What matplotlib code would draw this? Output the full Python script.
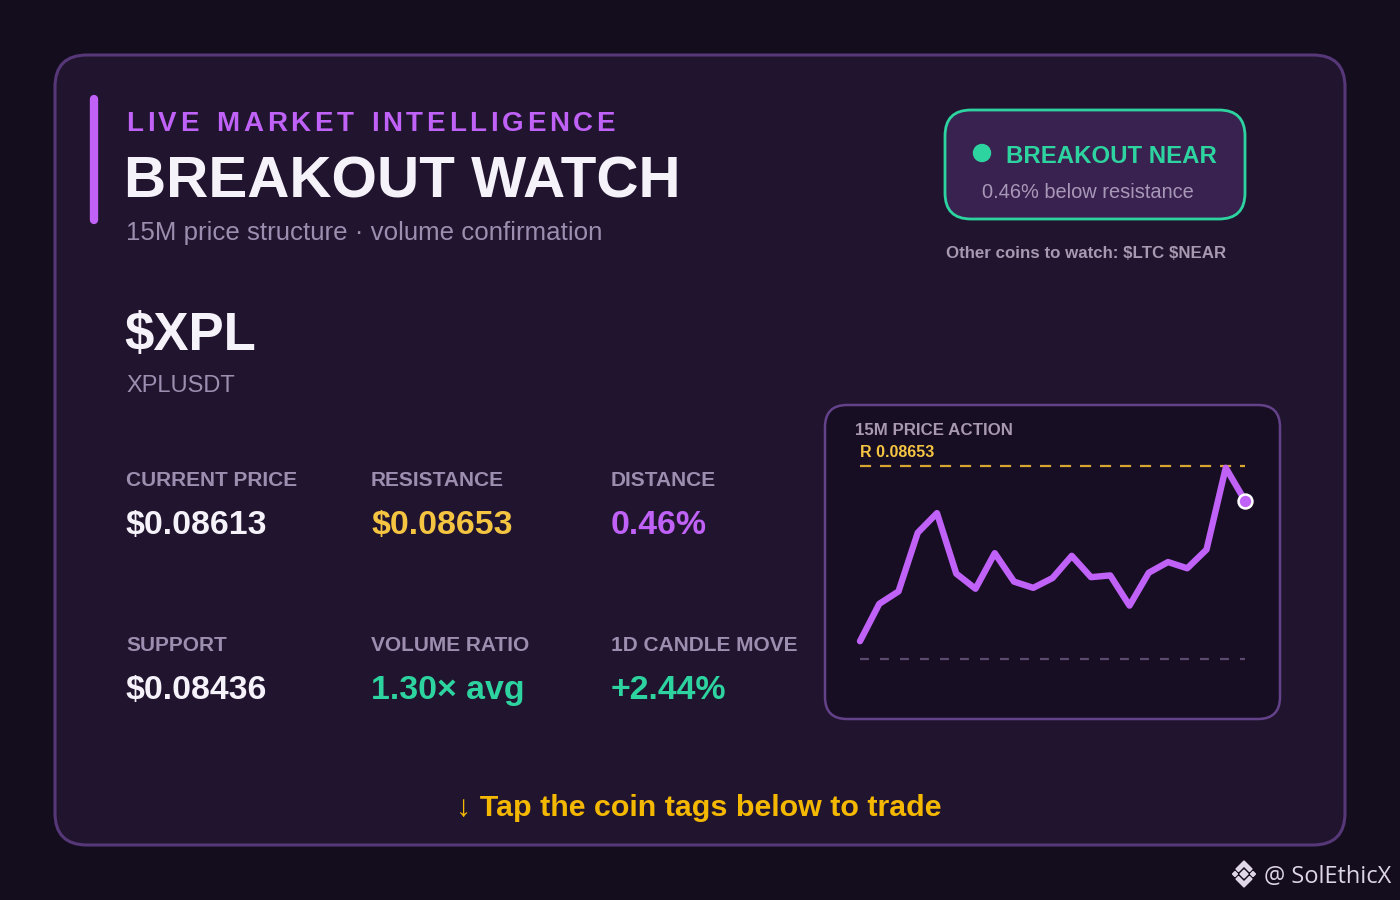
import numpy as np
import matplotlib
matplotlib.use("Agg")
import matplotlib.pyplot as plt
from matplotlib.patches import FancyBboxPatch, Circle, Polygon

plt.rcParams['font.family'] = ['Liberation Sans', 'DejaVu Sans']
plt.rcParams['text.parse_math'] = False

# data
prices = [0.08456, 0.08498, 0.08512, 0.08578, 0.08600, 0.08532, 0.08515,
          0.08555, 0.08523, 0.08516, 0.08527, 0.08552, 0.08528, 0.08530,
          0.08496, 0.08533, 0.08545, 0.08538, 0.08559, 0.08651, 0.08614]
resistance = 0.08653
support = 0.08436
stat_labels = ["CURRENT PRICE", "RESISTANCE", "DISTANCE",
               "SUPPORT", "VOLUME RATIO", "1D CANDLE MOVE"]
stat_values = ["$0.08613", "$0.08653", "0.46%",
               "$0.08436", "1.30\u00d7 avg", "+2.44%"]

BG = "#130d1e"
CARD = "#21142f"
CARD_EDGE = "#563878"
PURPLE = "#c062f7"
TEAL = "#2dd4a0"
YELLOW = "#f5c542"
GOLD = "#f5b800"
GREY = "#9d8daf"
WHITE = "#f6f2fa"
stat_colors = [WHITE, YELLOW, PURPLE, WHITE, TEAL, TEAL]

fig = plt.figure(figsize=(14, 9), dpi=100)
fig.patch.set_facecolor(BG)
ax = fig.add_axes([0, 0, 1, 1])
ax.set_xlim(0, 1400)
ax.set_ylim(900, 0)
ax.axis("off")

def rbox(x0, y0, x1, y1, r, fc, ec, lw):
    ax.add_patch(FancyBboxPatch((x0, y0), x1 - x0, y1 - y0,
                                boxstyle="round,pad=0,rounding_size=%d" % r,
                                fc=fc, ec=ec, lw=lw))

# main card
rbox(55, 55, 1345, 845, 32, CARD, CARD_EDGE, 2.2)

# accent bar
ax.plot([94, 94], [99, 220], color=PURPLE, lw=6, solid_capstyle="round")

# letter spaced kicker
renderer = fig.canvas.get_renderer()
kicker = "LIVE MARKET INTELLIGENCE"
widths = []
for ch in kicker:
    t = ax.text(0, 0, ch, fontsize=20, fontweight="bold")
    widths.append(t.get_window_extent(renderer).width if ch != " " else 0)
    t.remove()
space_w = 10
natural = sum(widths) + space_w * kicker.count(" ")
track = (489 - natural) / (len(kicker) - 1)
xx = 126
for ch, w in zip(kicker, widths):
    if ch == " ":
        xx += space_w + track
        continue
    ax.text(xx, 131, ch, fontsize=20, fontweight="bold", color=PURPLE, va="baseline")
    xx += w + track

ax.text(124, 197, "BREAKOUT WATCH", fontsize=42, fontweight="bold", color=WHITE, va="baseline")
ax.text(126, 240, "15M price structure \u00b7 volume confirmation", fontsize=18.6, color=GREY, va="baseline")

ax.text(124, 350, "$XPL", fontsize=38, fontweight="bold", color=WHITE, va="baseline")
ax.text(126, 392, "XPLUSDT", fontsize=17, color=GREY, va="baseline")

# stats grid
cols = [126, 371, 611]
rows = [486, 651]
for i, (lab, val) in enumerate(zip(stat_labels, stat_values)):
    cx = cols[i % 3]
    ry = rows[i // 3]
    ax.text(cx, ry, lab, fontsize=15, fontweight="bold", color=GREY, va="baseline")
    ax.text(cx, ry + 48, val, fontsize=24.4, fontweight="bold", color=stat_colors[i], va="baseline")

# badge
rbox(945, 110, 1245, 219, 26, "#3a2250", TEAL, 2)
ax.add_patch(Circle((982, 153), 8.5, color=TEAL))
ax.text(1006, 163, "BREAKOUT NEAR", fontsize=17.3, fontweight="bold", color=TEAL, va="baseline")
ax.text(982, 198, "0.46% below resistance", fontsize=14.4, color="#a898b8", va="baseline")
ax.text(946, 258, "Other coins to watch: $LTC $NEAR", fontsize=12.2, fontweight="bold",
        color="#a898b0", va="baseline")

# chart panel
rbox(825, 405, 1280, 719, 22, "#170e24", "#64428a", 1.8)
ax.text(855, 435, "15M PRICE ACTION", fontsize=12.2, fontweight="bold", color="#a898b0", va="baseline")
ax.text(860, 457, "R 0.08653", fontsize=11.5, fontweight="bold", color=YELLOW, va="baseline")

cax = fig.add_axes([860 / 1400, 1 - 659 / 900, 385 / 1400, (659 - 466) / 900])
cax.set_xlim(0, len(prices) - 1)
cax.set_ylim(support, resistance)
cax.axis("off")
xs = np.arange(len(prices))
cax.plot([0, len(prices) - 1], [resistance, resistance], color="#d9a531",
         lw=1.6, dashes=(5, 4), clip_on=False)
cax.plot([0, len(prices) - 1], [support, support], color="#5b4a6e",
         lw=1.6, dashes=(4, 5), clip_on=False)
cax.plot(xs, prices, color=PURPLE, lw=4.6, solid_joinstyle="round",
         solid_capstyle="round", clip_on=False)
cax.plot(xs[-1], prices[-1], "o", ms=10, mfc=PURPLE, mec="white", mew=1.8, clip_on=False)

# call to action
ax.text(699, 816, "\u2193 Tap the coin tags below to trade", fontsize=21.9, fontweight="bold",
        color=GOLD, ha="center", va="baseline")

# watermark logo
lc = (1244, 874)
def diamond(cx, cy, r):
    return [(cx, cy - r), (cx + r, cy), (cx, cy + r), (cx - r, cy)]
ax.add_patch(Polygon(diamond(lc[0], lc[1], 4), color="#e0d8e8"))
ax.add_patch(Polygon(diamond(lc[0] - 9, lc[1], 2.5), color="#e0d8e8"))
ax.add_patch(Polygon(diamond(lc[0] + 9, lc[1], 2.5), color="#e0d8e8"))
for s in (-1, 1):
    ax.add_patch(Polygon([(lc[0] - 8, lc[1] + s * 5), (lc[0], lc[1] + s * 13),
                          (lc[0] + 8, lc[1] + s * 5), (lc[0] + 5.5, lc[1] + s * 2.5),
                          (lc[0], lc[1] + s * 8), (lc[0] - 5.5, lc[1] + s * 2.5)],
                         color="#e0d8e8"))
ax.text(1264, 883, "@ SolEthicX", fontsize=17, color="#ddd5e5", va="baseline",
        family=["Open Sans", "DejaVu Sans"])

fig.savefig("out.png", dpi=100, facecolor=BG)
